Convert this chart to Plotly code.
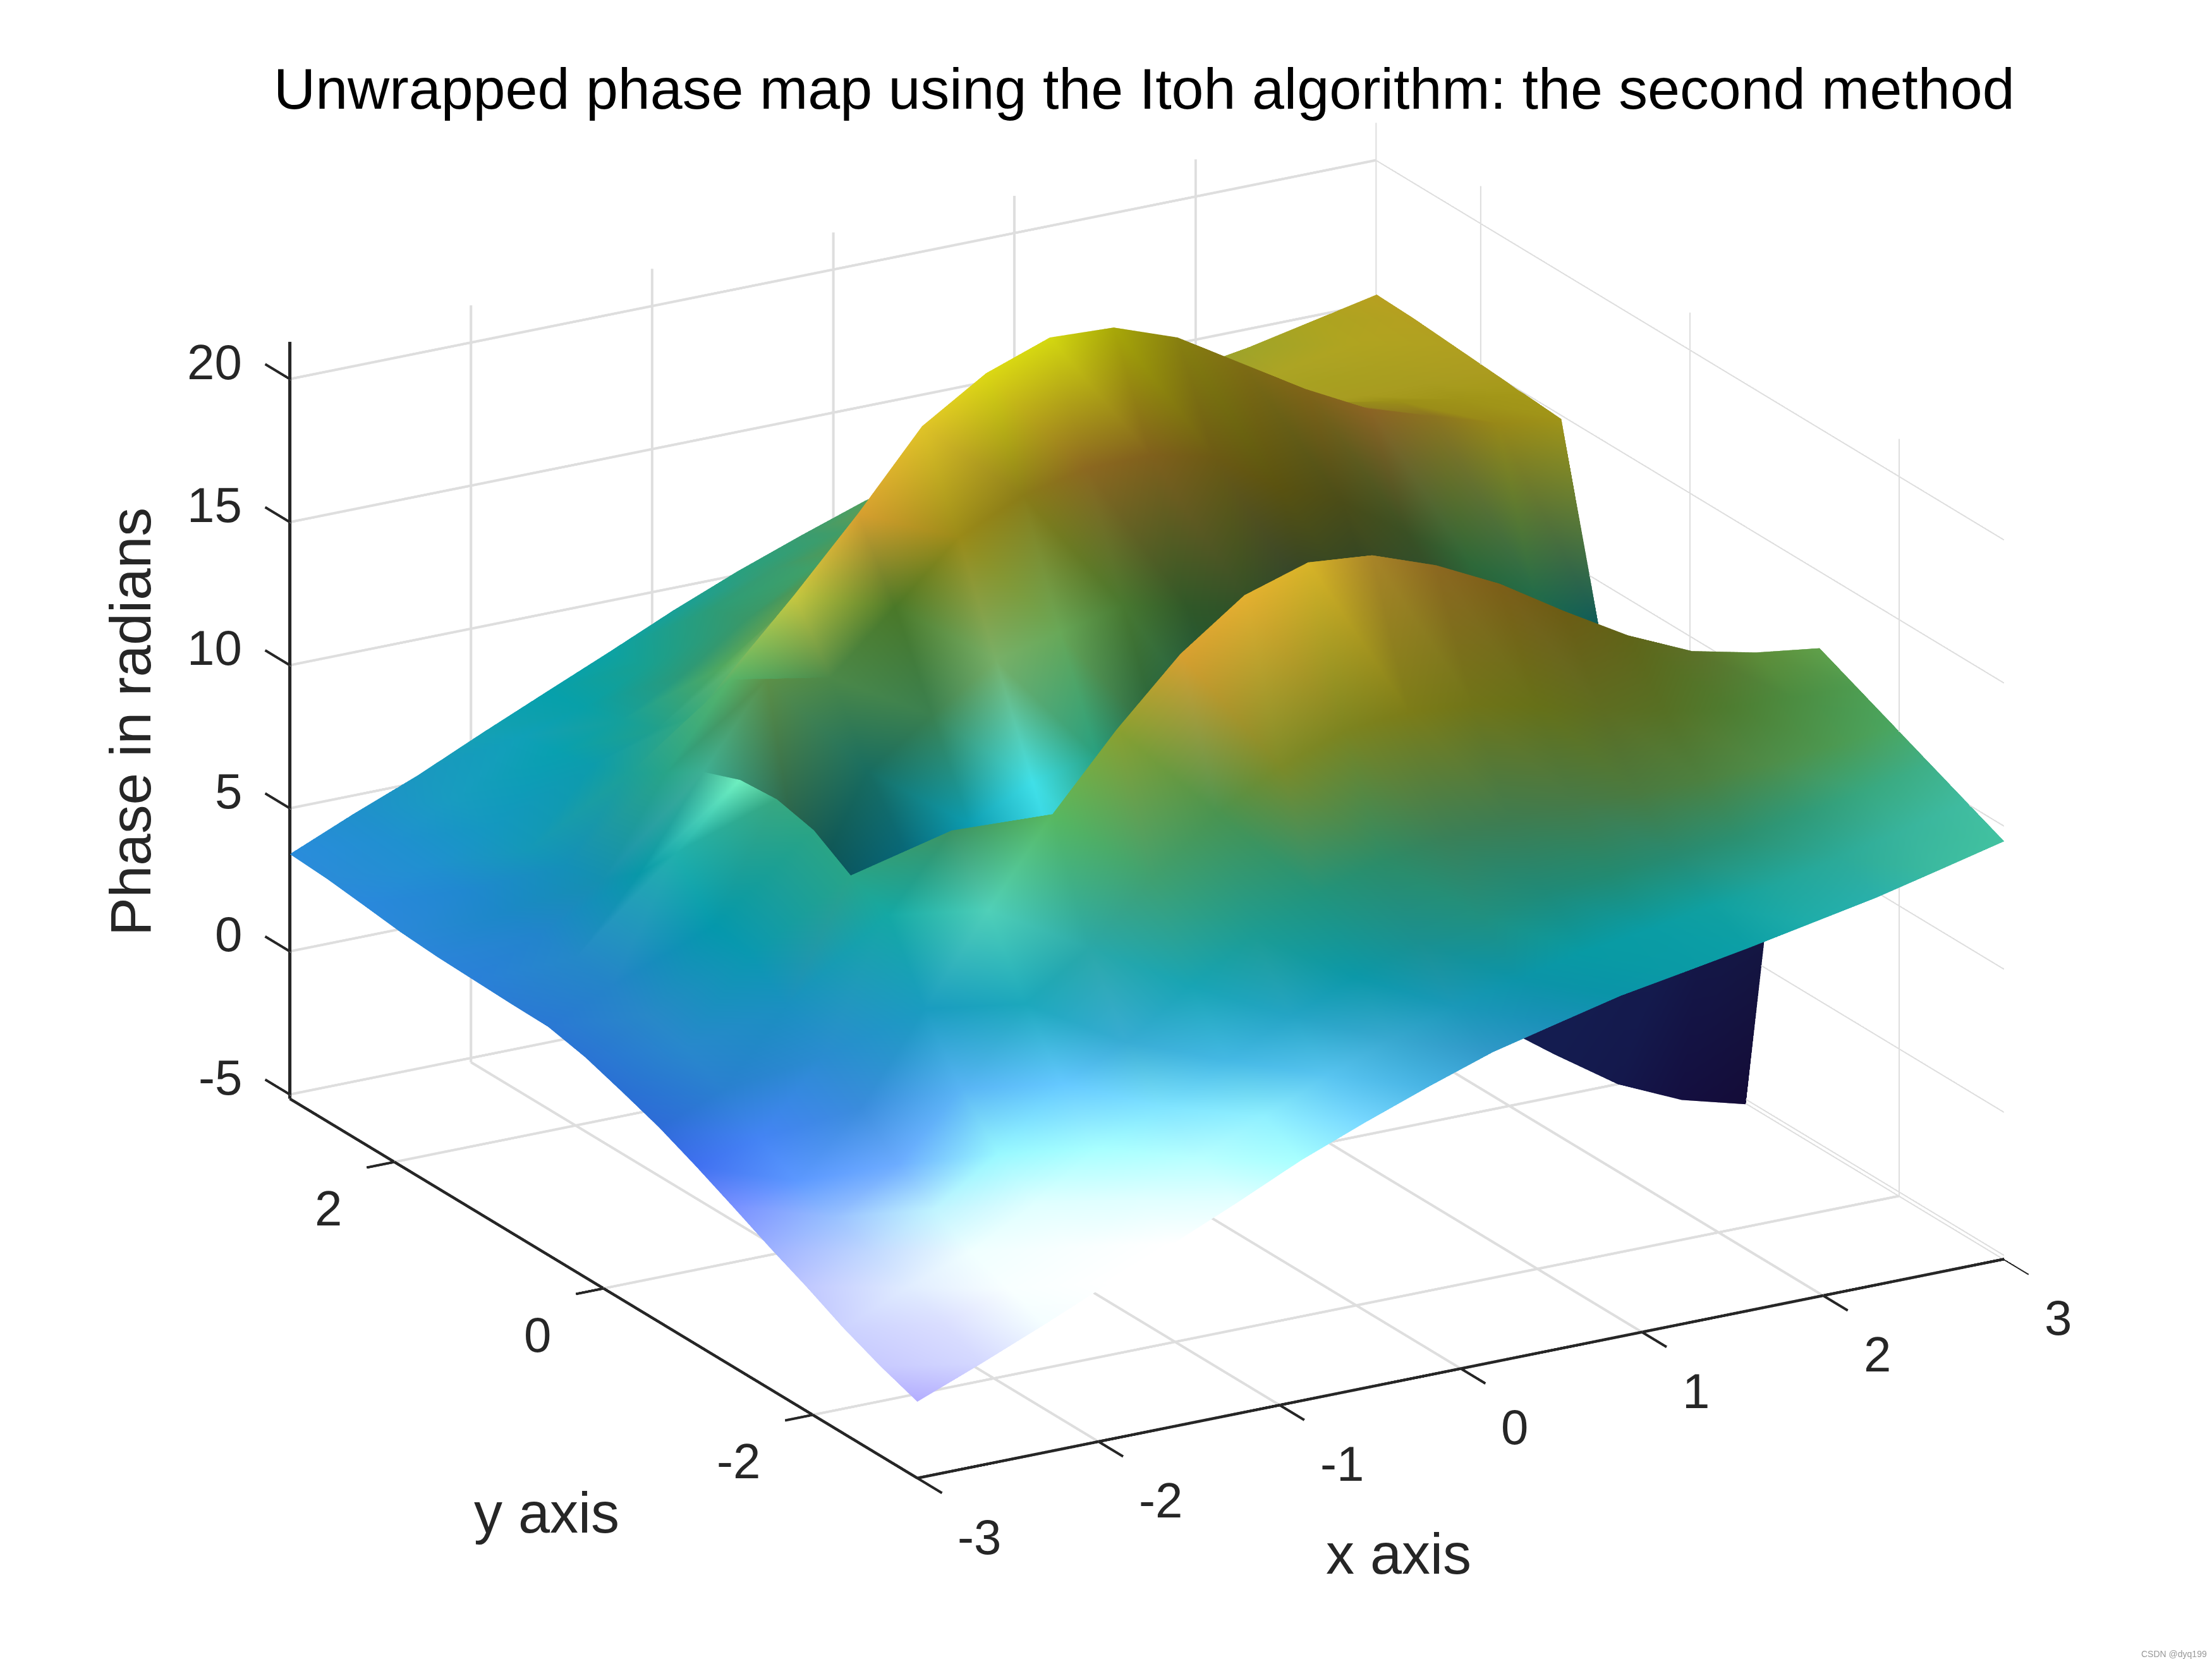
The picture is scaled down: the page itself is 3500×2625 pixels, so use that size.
import math
import plotly.graph_objects as go

x_vals = [-3.0,-2.647,-2.294,-1.941,-1.588,-1.235,-0.882,-0.529,-0.176,0.176,0.529,0.882,1.235,1.588,1.941,2.294,2.647,3.0]
y_vals = [-3.0,-2.647,-2.294,-1.941,-1.588,-1.235,-0.882,-0.529,-0.176,0.176,0.529,0.882,1.235,1.588,1.941,2.294,2.647,3.0]
x_ticks = [-3,-2,-1,0,1,2,3]
y_ticks = [-2,0,2]
z_ticks = [-5,0,5,10,15,20]

z_grid = [
[-2.48,-1.6,-.67,.31,1.24,2.22,3.25,4.12,4.93,5.68,6.22,6.75,7.13,7.52,7.95,8.38,8.91,9.45],
[-2.02,-1,-.2,.8,2,3,4,5,5.8,6.5,7,7.5,7.8,8.2,8.5,9,9.5,10.02],
[-1.47,-.5,.3,1.5,3,4,5.2,6.3,7.2,8,8.4,8.8,9,9.2,9.4,9.7,10.1,10.59],
[-.81,0,1,2.5,4.5,5.5,7,8.3,9.3,10,10.4,10.6,10.7,10.6,10.6,10.7,10.9,11.16],
[-.21,.4,1.8,4,6.5,8,10,11.8,13,13.8,14,13.8,13.3,12.8,12.2,11.9,11.8,11.73],
[.44,.9,3,6,9,11.9,14.4,16.6,18.2,18.9,18.7,17.9,16.8,15.4,14.1,13.1,12.6,12.3],
[1.07,1.6,4,8.5,11,6,8,9.5,10.5,11,11,10.5,9.5,8.5,7.8,7.3,7.1,7.0],
[1.65,2.5,5,9.1,2,1.5,2,2.3,2.5,2.5,2.5,2,1,-.5,-2.1,-3.6,-4.6,-5.2],
[2.11,3.2,6,9.9,3,4.5,5,5.5,6,6,5.5,5,4.5,3.5,2,.5,-.7,-1.8],
[2.54,3.5,6.2,10.2,4,7.5,8,9,9.5,9.5,9,8.5,8,7.5,6,4.5,3,1.5],
[2.82,3.8,8.0,10.1,5.35,9.5,11,12.5,13,13.5,13,12.5,12,11,9.5,8,6.5,5],
[2.84,4,6.5,9.6,12.4,12,14,16,17,17.5,17.5,17,15.5,14.5,13,11.5,10,8.5],
[2.88,4,5.5,8.8,11.6,14.1,16.5,19.1,20.5,21.3,21.2,20.4,19.05,17.7,16.55,15.85,15.15,14.85],
[2.92,4,5.2,8,9.5,11.5,13.5,15.5,16.5,17.5,17.5,17.3,17,16.5,16,15.6,15.2,14.95],
[3.01,4,5,7.5,8.3,10,11.5,13,14,15,15.5,15.5,15.3,15,15,15,15,15.05],
[3.17,4.1,5,7.2,7.8,9,10.5,11.8,12.5,13.5,14,14,14,14,14.3,14.7,14.9,15.15],
[3.32,4.2,5.2,6.9,7.5,8.5,10,11,11.8,12.5,13,13.2,13.5,13.8,14,14.4,14.8,15.25],
[3.4,4.36,5.25,6.27,7.25,8.22,9.22,10.13,10.94,11.7,12.3,12.8,13.2,13.6,14,14.36,14.83,15.3],
]

color_grid = [
"#b3adff #d4d8ff #f4feff #ffffff #ffffff #e4ffff #a8ffff #78d8ff #48b4e4 #3098c8 #1a90b8 #0a94a8 #0a9aa5 #0c9fa6 #1fadaa #2ab0aa #3cbba0 #42c2a0",
"#c8caff #dadeff #f8ffff #f8ffff #e0ffff #b8ffff #90f0ff #58c4f0 #38a8d0 #1a98b8 #0c94a8 #089aa4 #0a9ca4 #10a0a0 #20a69c #2caa98 #38b49c #40bca0",
"#ccd2ff #e0ecff #f0ffff #e0ffff #a8ffff #80e4ff #44b8e4 #24a4c4 #0c98a8 #1a9090 #209080 #1f8a78 #238a70 #288a70 #2c9070 #309a78 #38a880 #3fb088",
"#c0c8ff #c0d8ff #c0f4ff #98f8ff #64c8ff #38acd4 #18a4b4 #1c9c94 #22947c #2c8c68 #3a8058 #3f7c50 #467a48 #4a7a40 #4c8040 #4e8c48 #4c9850 #4aa660",
"#9cb0ff #98c0ff #6cacff #58b4f4 #1ca8bc #2aa8a8 #40a070 #4a9450 #7c8a28 #7c8420 #7c7c18 #707418 #667018 #5e6c20 #567024 #4e7c30 #4c8c40 #4e9c50",
"#7890ff #5c98ff #3a8cdc #1a9cc0 #50d0b8 #58b860 #8aa030 #d8a030 #e4b030 #d8b428 #a88428 #8c6820 #7c5e18 #6c5c14 #606418 #5c7028 #5e8c38 #60a04a",
"#4070f0 #4484f4 #2a8cd0 #14a8a4 #3c9464 #30a8a0 #30a0a0 #209090 #187878 #105858 #0c4050 #0c3050 #102050 #142050 #142050 #142050 #142050 #14204c",
"#2e6cd8 #2a80d0 #1a90c0 #28a488 #0a7a90 #0a88a0 #10a0b8 #20c0d8 #20a0a0 #106070 #0c3858 #0c2850 #101c50 #141c50 #141c50 #14184c #140f40 #140c38",
"#2a70d4 #2888cc #0a98b0 #2aa484 #064c5c #0a7a88 #10a0b0 #30c8e0 #28a890 #186c58 #0c4c48 #0c3c40 #0c3040 #0c2840 #0c2840 #102448 #14204c #142050",
"#2a74d4 #2888c8 #0498ac #38a880 #054a58 #086878 #0c9cb0 #40e0e8 #28a080 #206040 #105850 #105040 #104838 #104438 #104038 #0c4040 #0c3c48 #0c3848",
"#2a78d4 #2484c8 #20b0ac #70f0c0 #0a4a50 #186c60 #3a8050 #78b068 #68a858 #487830 #305828 #305028 #254030 #1c4030 #1a4838 #145040 #0c5048 #0a5050",
"#2a7cd4 #2488c8 #0898a8 #3eb094 #5c9048 #4c8848 #4a7828 #9a8a18 #8a7c18 #8c6820 #80601c #6c5a14 #5a5210 #4a4c18 #3a5024 #2e6838 #246c48 #105c58",
"#2a80d8 #2284cc #1490b0 #28a488 #58b468 #c8c840 #d8a030 #e0c428 #dcd814 #d4d810 #a8a808 #888010 #7e6c14 #806418 #8c6424 #8c7420 #988818 #a09418",
"#2a84d8 #1c88c8 #1490b8 #1ca098 #36a87c #7abc5c #809c50 #a0a030 #b0a820 #a8a018 #989014 #8c8414 #8a8014 #90841c #988c1c #9c9018 #a09418 #a49818",
"#2a88d8 #2088d0 #1498b8 #0c9cac #20a08c #50a860 #60a050 #609848 #80a040 #909c30 #989c28 #9c9c28 #a09c24 #a09c24 #a49c20 #a89c20 #a89c20 #ac9c20",
"#2a88dc #2090d0 #1498c0 #08a0b0 #14a09c #2c9a78 #3a9868 #40a068 #609848 #80a040 #90a030 #98a028 #a0a028 #a4a028 #a8a028 #a8a020 #aca020 #b0a020",
"#2a8cd8 #2090d0 #189cc0 #10a0b8 #08a0a8 #18a090 #2c9c78 #389c70 #409c68 #709c48 #889c38 #98a030 #a0a028 #a4a428 #a8a428 #aca424 #b0a420 #b4a020",
"#2a8cdc #2090cc #1a98c0 #14a0b4 #06a0ac #0ca2a4 #18a098 #28a080 #3a9c70 #50a060 #68a048 #80a038 #90a030 #98a030 #98a030 #a0a428 #aca420 #b8a020",
]

nx, ny = len(x_vals), len(y_vals)
vx, vy, vz, vc = [], [], [], []
for j in range(ny):
    row = color_grid[j].split()
    for i in range(nx):
        vx.append(x_vals[i]); vy.append(y_vals[j]); vz.append(z_grid[j][i]); vc.append(row[i])
ti, tj, tk = [], [], []
for j in range(ny - 1):
    for i in range(nx - 1):
        a = j * nx + i; b = a + 1; c = a + nx; d = c + 1
        ti += [a, b]; tj += [b, d]; tk += [c, c]

FONT = "Liberation Sans, Arial, sans-serif"
INK = "#262626"
GRID = "#dedede"
X0, X1 = -3, 3
Y0, Y1 = -3, 3
Z_MIN, Z_MAX = -5.15, 21.3
Z_PAD = 0.3
X_TICK = 0.153
Y_TICK = 0.236

EYE = (-0.4685, -0.8115, 0.349)
PX_XY = 330.7
PX_Z = 48.2


class Ribbons:
    """WebGL clamps line widths to one pixel, so rules are thin mesh strips that face the camera."""
    def __init__(self):
        self.x, self.y, self.z, self.i, self.j, self.k = [], [], [], [], [], []

    def add(self, a, b, width):
        d = ((b[0]-a[0])*PX_XY, (b[1]-a[1])*PX_XY, (b[2]-a[2])*PX_Z)
        w = (d[1]*EYE[2]-d[2]*EYE[1], d[2]*EYE[0]-d[0]*EYE[2], d[0]*EYE[1]-d[1]*EYE[0])
        n = math.sqrt(sum(c*c for c in w))
        h = width / 2 / n
        off = (w[0]*h/PX_XY, w[1]*h/PX_XY, w[2]*h/PX_Z)
        base = len(self.x)
        for p, sign in ((a, 1), (a, -1), (b, 1), (b, -1)):
            self.x.append(p[0]+sign*off[0]); self.y.append(p[1]+sign*off[1]); self.z.append(p[2]+sign*off[2])
        self.i += [base, base+1]; self.j += [base+1, base+3]; self.k += [base+2, base+2]

    def trace(self, color):
        return go.Mesh3d(x=self.x, y=self.y, z=self.z, i=self.i, j=self.j, k=self.k, color=color,
                         flatshading=True, hoverinfo="skip", showscale=False,
                         lighting=dict(ambient=1, diffuse=0, specular=0, roughness=1, fresnel=0))


grid = Ribbons()
for v in x_ticks:
    if v != X0:
        grid.add((v, Y0, Z_MIN), (v, Y1, Z_MIN), 4)
    grid.add((v, Y1, Z_MIN), (v, Y1, Z_MAX), 4)
for v in y_ticks:
    grid.add((X0, v, Z_MIN), (X1, v, Z_MIN), 4)
    grid.add((X1, v, Z_MIN), (X1, v, Z_MAX), 4)
for v in z_ticks:
    grid.add((X0, Y1, v), (X1, Y1, v), 4)
    grid.add((X1, Y1, v), (X1, Y0, v), 4)

ink = Ribbons()
ink.add((X0, Y0, Z_MIN), (X1, Y0, Z_MIN), 4.5)
ink.add((X0, Y0, Z_MIN), (X0, Y1, Z_MIN), 4.5)
ink.add((X0, Y1, Z_MIN), (X0, Y1, Z_MAX), 5)
for v in x_ticks:
    ink.add((v, Y0, Z_MIN), (v, Y0 - Y_TICK, Z_MIN), 4)
for v in y_ticks:
    ink.add((X0, v, Z_MIN), (X0 - X_TICK, v, Z_MIN), 4)
for v in z_ticks:
    ink.add((X0, Y1, v), (X0, Y1 + Y_TICK, v), 4)

fig = go.Figure()
fig.add_trace(grid.trace(GRID))
fig.add_trace(go.Mesh3d(
    x=vx, y=vy, z=vz, i=ti, j=tj, k=tk, vertexcolor=vc,
    flatshading=False, hoverinfo="skip", showscale=False,
    lighting=dict(ambient=1, diffuse=0, specular=0, roughness=1, fresnel=0),
))
fig.add_trace(ink.trace(INK))

def axis(rng):
    return dict(range=rng, showticklabels=False, title=dict(text=""), showbackground=False, showgrid=False,
                showline=False, zeroline=False, showspikes=False, ticks="")

s = 1.581
k = 3.0
def label(text, px, py, size, rot=0, color=INK):
    return dict(text=text, x=px/3500, y=1-py/2625, xref="paper", yref="paper", xanchor="center", yanchor="middle",
                showarrow=False, textangle=rot, font=dict(family=FONT, size=size, color=color))

def tick(text, x, y, z, dx, dy, anchor="center"):
    return dict(text=text, x=x, y=y, z=z, showarrow=False, xanchor=anchor, yanchor="middle",
                xshift=dx, yshift=dy, font=dict(family=FONT, size=78, color=INK))

scene_notes = (
    [tick(str(v), v, Y0, Z_MIN, 98 if v < 0 else 85, -93) for v in x_ticks]
    + [tick(str(v), X0, v, Z_MIN, -118 if v < 0 else -105, -73) for v in y_ticks]
    + [tick(str(v), X0, Y1, v, -74, 27, "right") for v in z_ticks]
)

z_span = Z_MAX - Z_MIN
fig.update_layout(
    width=3500, height=2625, margin=dict(l=0, r=0, t=0, b=0), paper_bgcolor="white",
    scene=dict(
        domain=dict(x=[0.0281, 0.9921], y=[0.0404, 0.9974]),
        xaxis=axis([X0 - X_TICK, X1]), yaxis=axis([Y0 - Y_TICK, Y1 + Y_TICK]),
        zaxis=axis([Z_MIN - Z_PAD, Z_MAX + Z_PAD]),
        aspectmode="manual",
        aspectratio=dict(x=s*(6+X_TICK)/6, y=s*(6+2*Y_TICK)/6, z=0.6436*s*(z_span+2*Z_PAD)/z_span),
        camera=dict(eye=dict(x=EYE[0]*k, y=EYE[1]*k, z=EYE[2]*k), up=dict(x=0, y=0, z=1),
                    center=dict(x=0, y=0, z=0), projection=dict(type="orthographic")),
        annotations=scene_notes,
    ),
    annotations=[
        label("Unwrapped phase map using the Itoh algorithm: the second method", 1802, 132, 91.6, color="black"),
        label("Phase in radians", 199, 1134, 91, rot=-90),
        label("y axis", 857, 2386, 90),
        label("x axis", 2205, 2451, 90),
        label("CSDN @dyq1998", 3436, 2609, 14, color="#999999"),
    ],
)
fig.write_html("out.html")
